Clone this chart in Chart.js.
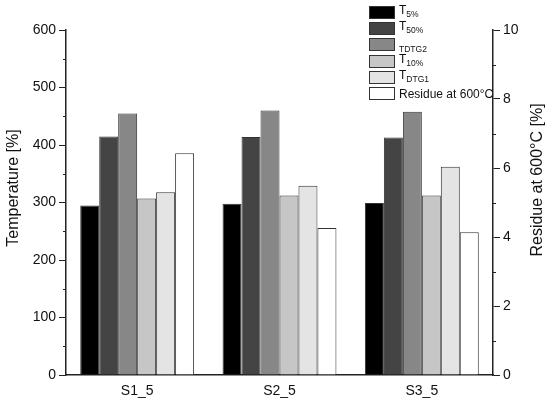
<!DOCTYPE html>
<html>
<head>
<meta charset="utf-8">
<script src="https://cdn.jsdelivr.net/npm/chart.js@4"></script>
<style>
  body { margin:0; background:#fff; }
  #wrap { position:relative; width:550px; height:402px; }
  #legend { position:absolute; left:369px; top:4px; font-family:"Liberation Sans", Arial, sans-serif; color:#111; }
  .row { height:16.3px; display:flex; align-items:center; }
  .box { width:24px; height:11px; border:1px solid #333; margin-right:4px; }
  .lbl { font-size:12px; line-height:12px; white-space:nowrap; }
  .lbl sub { font-size:8.5px; vertical-align:-3px; }
  .small { font-size:8.5px; position:relative; top:4px; }
</style>
</head>
<body>
<div id="wrap">
  <canvas id="c" width="550" height="402"></canvas>
  <div id="legend"></div>
</div>
<script>
const categories = ['S1_5', 'S2_5', 'S3_5'];
const t5 = [295, 298, 299];
const t50 = [415, 414, 413];
const tdtg2 = [455, 460, 458];
const t10 = [307, 312, 312];
const tdtg1 = [318, 329, 362];
const residue = [6.43, 4.26, 4.14];   // right axis, %

const legendMain = ['T', 'T', '', 'T', 'T', 'Residue at 600°C'];
const legendSub = ['5%', '50%', 'TDTG2', '10%', 'DTG1', ''];
const colors = ['#000000', '#444444', '#878787', '#c6c6c6', '#e4e4e4', '#ffffff'];

const leftTitle = 'Temperature [%]';
const rightTitle = 'Residue at 600°C [%]';
const font = '"Liberation Sans", Arial, sans-serif';

const series = [t5, t50, tdtg2, t10, tdtg1, residue];

const datasets = series.map((d, i) => ({
  label: (legendMain[i] + ' ' + legendSub[i]).trim(),
  data: d,
  backgroundColor: colors[i],
  borderColor: '#333',
  borderWidth: 1,
  borderSkipped: 'bottom',
  yAxisID: i === 5 ? 'y1' : 'y',
  barPercentage: 1.0,
  categoryPercentage: 0.8
}));

// legend as html so the subscripts render right
const lg = document.getElementById('legend');
legendMain.forEach((m, i) => {
  let txt;
  if (m === '') txt = '<span class="small">' + legendSub[i] + '</span>';
  else if (legendSub[i]) txt = m + '<sub>' + legendSub[i] + '</sub>';
  else txt = m;
  lg.innerHTML += '<div class="row"><div class="box" style="background:' + colors[i] + '"></div><div class="lbl">' + txt + '</div></div>';
});

// minor ticks + rotated axis titles
const extras = {
  id: 'extras',
  afterDraw(chart) {
    const ctx = chart.ctx;
    const y = chart.scales.y, y1 = chart.scales.y1;
    ctx.save();
    ctx.strokeStyle = '#222';
    ctx.lineWidth = 1;
    for (let v = 50; v < 600; v += 100) {
      const p = Math.round(y.getPixelForValue(v)) + 0.5;
      ctx.beginPath(); ctx.moveTo(y.right - 3, p); ctx.lineTo(y.right, p); ctx.stroke();
    }
    for (let v = 1; v < 10; v += 2) {
      const p = Math.round(y1.getPixelForValue(v)) + 0.5;
      ctx.beginPath(); ctx.moveTo(y1.left, p); ctx.lineTo(y1.left + 3, p); ctx.stroke();
    }
    ctx.fillStyle = '#111';
    ctx.font = '16px ' + font;
    ctx.textAlign = 'center';
    ctx.textBaseline = 'middle';
    ctx.translate(14, 188);
    ctx.rotate(-Math.PI / 2);
    ctx.fillText(leftTitle, 0, 0);
    ctx.restore();
    ctx.save();
    ctx.fillStyle = '#111';
    ctx.font = '16px ' + font;
    ctx.textAlign = 'center';
    ctx.textBaseline = 'middle';
    ctx.translate(538, 180);
    ctx.rotate(-Math.PI / 2);
    ctx.fillText(rightTitle, 0, 0);
    ctx.restore();
  }
};

new Chart(document.getElementById('c'), {
  type: 'bar',
  data: { labels: categories, datasets },
  options: {
    responsive: false,
    animation: false,
    layout: { padding: { top: 30, left: 0, right: 0, bottom: 0 } },
    plugins: { legend: { display: false }, tooltip: { enabled: false } },
    scales: {
      x: {
        offset: true,
        grid: { display: false, drawTicks: false },
        border: { display: true, color: '#222', width: 1.5 },
        ticks: { color: '#111', font: { family: font, size: 14 }, padding: 8 },
        afterFit(s) { s.height = 27; }
      },
      y: {
        position: 'left',
        min: 0, max: 600,
        grid: { display: true, drawOnChartArea: false, tickLength: 7, color: '#222' },
        border: { display: true, color: '#222', width: 1.5 },
        ticks: { stepSize: 100, color: '#111', font: { family: font, size: 14 }, padding: 3 },
        afterFit(s) { s.width = 66; }
      },
      y1: {
        position: 'right',
        min: 0, max: 10,
        grid: { display: true, drawOnChartArea: false, tickLength: 7, color: '#222' },
        border: { display: true, color: '#222', width: 1.5 },
        ticks: { stepSize: 2, color: '#111', font: { family: font, size: 14 }, padding: 3 },
        afterFit(s) { s.width = 57; }
      }
    }
  },
  plugins: [extras]
});
</script>
</body>
</html>
